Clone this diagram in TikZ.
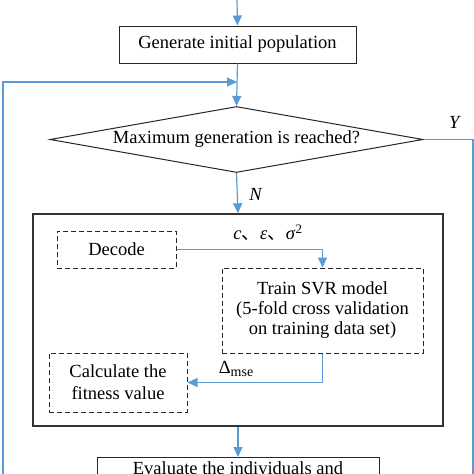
\documentclass[tikz,border=0pt]{standalone}
\usepackage{fontspec}
\setmainfont{Liberation Serif}
\newfontfamily\cjk{Noto Sans CJK SC}
\usetikzlibrary{arrows.meta,shapes.geometric}
\definecolor{flowblue}{RGB}{91,155,213}
\tikzset{
  box/.style={draw=black!85, line width=1pt, inner sep=0pt, align=center},
  dbox/.style={box, dashed, dash pattern=on 5pt off 3pt},
  decision/.style={draw=black!85, line width=1pt, diamond, aspect=5.65, inner sep=0pt, minimum width=373pt, minimum height=66pt},
  line/.style={draw=flowblue, line width=1.2pt},
  flow/.style={line, -{Triangle[length=10pt,width=9pt]}},
}
\begin{document}
\begin{tikzpicture}[x=1pt, y=-1pt, font=\fontsize{18.5}{20}\selectfont]
    \useasboundingbox (0,0) rectangle (474,474);
    \clip (0,0) rectangle (474,474);
    \node[box, minimum width=237pt, minimum height=37pt] (gen) at (237.5,44.5) {Generate initial population};
    \node[decision] (dec) at (236.5,139.5) {Maximum generation is reached?};
    \node[box, line width=1.4pt, draw=black!80, minimum width=410pt, minimum height=212pt] (outer) at (238,320) {};
    \node[dbox, minimum width=119pt, minimum height=37pt] (decode) at (116.5,249.5) {Decode};
    \node[dbox, minimum width=201pt, minimum height=85pt] (train) at (322.5,310.5) {Train SVR model\\(5-fold cross validation\\on training data set)};
    \node[dbox, minimum width=138pt, minimum height=59pt] (calc) at (118,382.5) {Calculate the\\[2pt]fitness value};
    \node[box, anchor=north, minimum width=282pt, inner ysep=4pt, text depth=30pt] (eval) at (238,457) {Evaluate the individuals and};
    \coordinate (start) at (237,0);
    \coordinate (merge) at (237,82);
    \coordinate (lb) at (3,474);
    \coordinate (rb) at (473,474);
    % main path
    \draw[flow] (start) -- (gen.north);
    \draw[flow] (gen.south) -- (dec.north);
    \draw[flow] (lb) |- (merge);
    \draw[line] (dec.east) -| (rb);
    \node (ylab) at (455,122) {\textit{Y}};
    \draw[flow] (dec.south) -- (outer.north);
    \node (nlab) at (256,194) {\textit{N}};
    % inside the loop
    \draw[flow] (decode.east) -| (train.north);
    \node (params) at (268,233) {\textit{c}{\cjk 、}\textit{ε}{\cjk 、}\textit{σ}\textsuperscript{2}};
    \draw[flow] (train.south) |- (calc.east);
    \node (mse) at (236,369) {Δ{\fontsize{14}{14}\selectfont\raisebox{-3pt}{mse}}};
    \draw[flow] (outer.south) -- (eval.north);
\end{tikzpicture}
\end{document}
